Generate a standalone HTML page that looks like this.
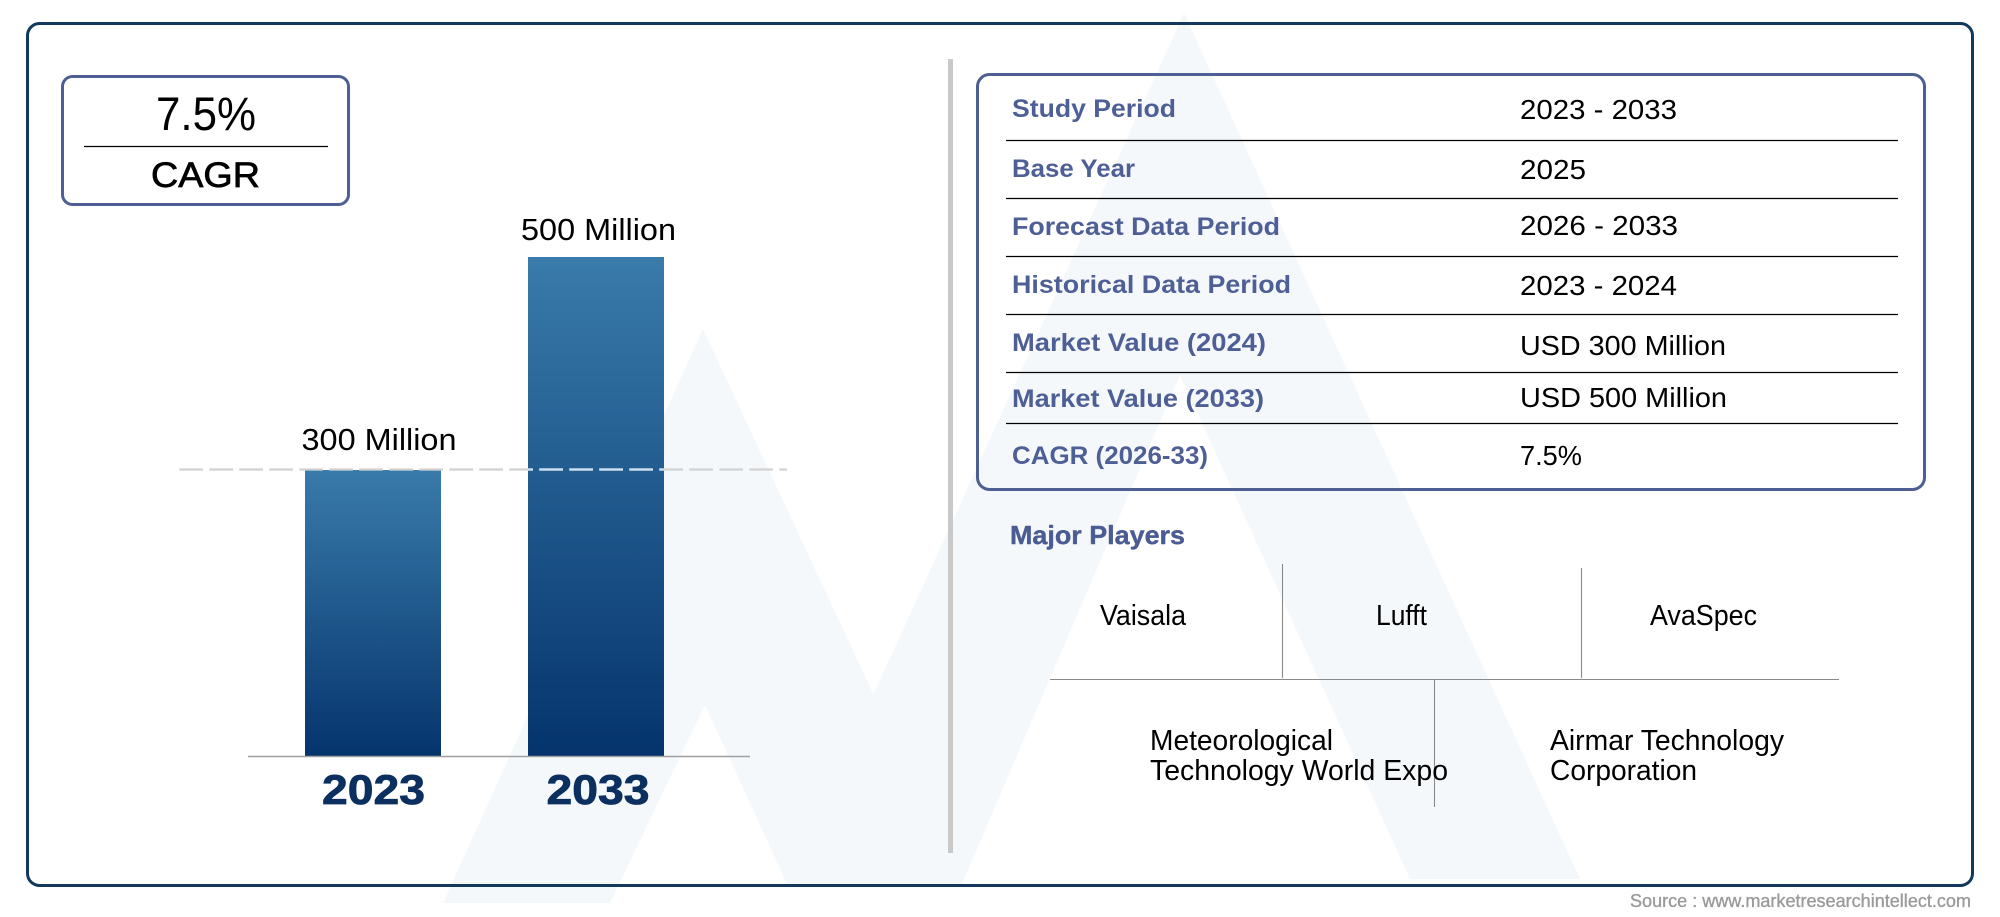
<!DOCTYPE html>
<html lang="en">
<head>
<meta charset="utf-8">
<title>Market Overview</title>
<style>
  html, body { margin: 0; padding: 0; background: #ffffff; }
  body { width: 2000px; height: 917px; overflow: hidden; }
  svg { display: block; }
  text { font-family: "Liberation Sans", sans-serif; }
  .row-label { font-size: 25px; font-weight: 700; fill: #4e5f96; }
  .row-value { font-size: 28px; fill: #000000; }
  .player { font-size: 28.5px; fill: #000000; }
  .row-line { stroke: #000000; stroke-width: 1.3; }
  .player-line { stroke: #8a8a8a; stroke-width: 1.1; }
</style>
</head>
<body>
<svg id="root" xmlns="http://www.w3.org/2000/svg" width="2000" height="917" viewBox="0 0 2000 917">
  <defs>
    <linearGradient id="barGrad" x1="0" y1="0" x2="0" y2="1">
      <stop offset="0" stop-color="#397bab"/>
      <stop offset="1" stop-color="#05346c"/>
    </linearGradient>
  </defs>

  <g fill="#f5f8fb">
    <polygon points="703,329 962,884 787,884 705,705 610,903 443,903"/>
    <polygon points="1184,13 1580,879 1410,879 1180,375 962,884 787,884"/>
  </g>

  <rect x="27.5" y="23.5" width="1945" height="862" rx="12" ry="12" fill="none" stroke="#12395b" stroke-width="3"/>

  <g>
    <rect x="62.5" y="76.5" width="286" height="128" rx="10" ry="10" fill="none" stroke="#4d5f93" stroke-width="3"/>
    <text x="156" y="130" font-size="47" fill="#000" textLength="100" lengthAdjust="spacingAndGlyphs">7.5%</text>
    <line x1="84" y1="146.5" x2="328" y2="146.5" stroke="#000" stroke-width="1.2"/>
    <text x="151" y="187" font-size="35" fill="#000" stroke="#000" stroke-width="0.7" textLength="109" lengthAdjust="spacingAndGlyphs">CAGR</text>
  </g>

  <g id="chart"></g>

  <rect x="948" y="59" width="5" height="794" fill="#c9c9c9"/>

  <g>
    <rect x="977.5" y="74.5" width="947" height="415" rx="12" ry="12" fill="none" stroke="#4d5f93" stroke-width="3"/>

    <line class="row-line" x1="1006" y1="140.5" x2="1898" y2="140.5"/>
    <line class="row-line" x1="1006" y1="198.5" x2="1898" y2="198.5"/>
    <line class="row-line" x1="1006" y1="256.5" x2="1898" y2="256.5"/>
    <line class="row-line" x1="1006" y1="314.5" x2="1898" y2="314.5"/>
    <line class="row-line" x1="1006" y1="372.5" x2="1898" y2="372.5"/>
    <line class="row-line" x1="1006" y1="423.5" x2="1898" y2="423.5"/>

    <text class="row-label" x="1012" y="117" textLength="164" lengthAdjust="spacingAndGlyphs">Study Period</text>
    <text class="row-label" x="1012" y="177" textLength="123" lengthAdjust="spacingAndGlyphs">Base Year</text>
    <text class="row-label" x="1012" y="235" textLength="268" lengthAdjust="spacingAndGlyphs">Forecast Data Period</text>
    <text class="row-label" x="1012" y="293" textLength="279" lengthAdjust="spacingAndGlyphs">Historical Data Period</text>
    <text class="row-label" x="1012" y="351" textLength="254" lengthAdjust="spacingAndGlyphs">Market Value (2024)</text>
    <text class="row-label" x="1012" y="407" textLength="252" lengthAdjust="spacingAndGlyphs">Market Value (2033)</text>
    <text class="row-label" x="1012" y="464" textLength="196" lengthAdjust="spacingAndGlyphs">CAGR (2026-33)</text>

    <text class="row-value" x="1520" y="119" textLength="157" lengthAdjust="spacingAndGlyphs">2023 - 2033</text>
    <text class="row-value" x="1520" y="179" textLength="66" lengthAdjust="spacingAndGlyphs">2025</text>
    <text class="row-value" x="1520" y="235" textLength="158" lengthAdjust="spacingAndGlyphs">2026 - 2033</text>
    <text class="row-value" x="1520" y="295" textLength="157" lengthAdjust="spacingAndGlyphs">2023 - 2024</text>
    <text class="row-value" x="1520" y="355" textLength="206" lengthAdjust="spacingAndGlyphs">USD 300 Million</text>
    <text class="row-value" x="1520" y="407" textLength="207" lengthAdjust="spacingAndGlyphs">USD 500 Million</text>
    <text class="row-value" x="1520" y="465" textLength="62" lengthAdjust="spacingAndGlyphs">7.5%</text>
  </g>

  <g>
    <text x="1010" y="544" font-size="26" font-weight="700" fill="#4a5c93" stroke="#4a5c93" stroke-width="0.4" textLength="175" lengthAdjust="spacingAndGlyphs">Major Players</text>

    <line class="player-line" x1="1050" y1="679.5" x2="1839" y2="679.5"/>
    <line class="player-line" x1="1282.5" y1="564" x2="1282.5" y2="678"/>
    <line class="player-line" x1="1581.5" y1="568" x2="1581.5" y2="678"/>
    <line class="player-line" x1="1434.5" y1="680" x2="1434.5" y2="807"/>

    <text class="player" x="1100" y="625" textLength="86" lengthAdjust="spacingAndGlyphs">Vaisala</text>
    <text class="player" x="1376" y="625" textLength="51" lengthAdjust="spacingAndGlyphs">Lufft</text>
    <text class="player" x="1650" y="625" textLength="107" lengthAdjust="spacingAndGlyphs">AvaSpec</text>
    <text class="player" x="1150" y="750" textLength="183" lengthAdjust="spacingAndGlyphs">Meteorological</text>
    <text class="player" x="1150" y="780" textLength="298" lengthAdjust="spacingAndGlyphs">Technology World Expo</text>
    <text class="player" x="1550" y="750" textLength="234" lengthAdjust="spacingAndGlyphs">Airmar Technology</text>
    <text class="player" x="1550" y="780" textLength="147" lengthAdjust="spacingAndGlyphs">Corporation</text>
  </g>

  <text x="1630" y="907" font-size="18" fill="#9a9a9a" stroke="#9a9a9a" stroke-width="0.35" textLength="341" lengthAdjust="spacingAndGlyphs">Source : www.marketresearchintellect.com</text>
</svg>

<script>
const categories = ['2023', '2033'];
const seriesValues = [300, 500];
const valueLabels = ['300 Million', '500 Million'];

const SVG_NS = 'http://www.w3.org/2000/svg';
const chart = document.getElementById('chart');

// The bars in the source sit on a truncated value axis.
const VALUE_MIN = 31.5;
const VALUE_MAX = 500;
const PLOT_BOTTOM = 756;
const PLOT_TOP = 257;
function yScale(v) {
  return PLOT_BOTTOM - (v - VALUE_MIN) / (VALUE_MAX - VALUE_MIN) * (PLOT_BOTTOM - PLOT_TOP);
}

const FIRST_BAND_CENTER = 373;
const BAND_STEP = 223;
const BAR_WIDTH = 136;
function xScale(i) {
  return FIRST_BAND_CENTER + i * BAND_STEP;
}

function make(tag, attrs, text) {
  const el = document.createElementNS(SVG_NS, tag);
  Object.keys(attrs).forEach(function (k) { el.setAttribute(k, attrs[k]); });
  if (text !== undefined) el.textContent = text;
  return el;
}

const DASH = 23.7;
const DASH_PERIOD = 30;
const DASH_START = 179.3;
const DASH_END = 787;

categories.forEach(function (cat, i) {
  const v = seriesValues[i];
  const cx = xScale(i);
  const top = yScale(v);

  const bar = make('rect', {
    x: cx - BAR_WIDTH / 2,
    y: top,
    width: BAR_WIDTH,
    height: PLOT_BOTTOM - top,
    fill: 'url(#barGrad)'
  });
  
  
  chart.appendChild(bar);

  const valueLabel = make('text', {
    x: cx + (i === 0 ? 6 : 2.5),
    y: top - (i === 0 ? 20 : 17),
    'text-anchor': 'middle',
    'font-size': 31,
    fill: '#000000',
    textLength: 155,
    lengthAdjust: 'spacingAndGlyphs'
  }, valueLabels[i]);
  
  
  chart.appendChild(valueLabel);

  const catLabel = make('text', {
    x: cx + (i === 0 ? 0.5 : 2),
    y: 804,
    'text-anchor': 'middle',
    'font-size': 42,
    'font-weight': 700,
    fill: '#0b2f5e',
    stroke: '#0b2f5e',
    'stroke-width': 0.8,
    textLength: 103,
    lengthAdjust: 'spacingAndGlyphs'
  }, cat);
  
  
  chart.appendChild(catLabel);
});

const axisLine = make('line', {
  x1: 248, y1: PLOT_BOTTOM + 0.5, x2: 750, y2: PLOT_BOTTOM + 0.5,
  stroke: '#a0a0a0', 'stroke-width': 1.6
});


chart.appendChild(axisLine);

const refY = yScale(seriesValues[0]) - 0.5;
const refLine = make('line', {
  x1: DASH_START, y1: refY, x2: DASH_END, y2: refY,
  stroke: '#d2d2d2', 'stroke-width': 2.2,
  'stroke-dasharray': DASH + ' ' + (DASH_PERIOD - DASH)
});


chart.appendChild(refLine);

// Where the dashes cross the taller bar they read lighter.
const tallLeft = xScale(1) - BAR_WIDTH / 2;
const refOverlay = make('line', {
  x1: tallLeft, y1: refY, x2: tallLeft + BAR_WIDTH, y2: refY,
  stroke: '#cfe2f5', 'stroke-width': 2.2,
  'stroke-dasharray': DASH + ' ' + (DASH_PERIOD - DASH),
  'stroke-dashoffset': (tallLeft - DASH_START) % DASH_PERIOD
});


chart.appendChild(refOverlay);
</script>
</body>
</html>
